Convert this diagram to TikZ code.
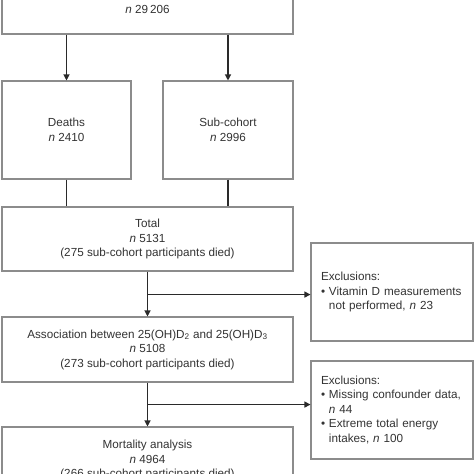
\documentclass[tikz,border=0pt]{standalone}
\usepackage{fontspec}
\setmainfont{Liberation Sans}
\usetikzlibrary{arrows.meta}
\definecolor{boxgray}{HTML}{8C8C8C}
\definecolor{txt}{HTML}{333333}
\definecolor{linec}{HTML}{2A2A2A}
\newcommand\myfs{\fontsize{11.7}{14.5}\selectfont}
\begin{document}
\begin{tikzpicture}[x=1pt,y=-1pt,
  box/.style={draw=boxgray, line width=1.1pt, inner sep=0pt, align=center, font=\myfs, text=txt},
  exbox/.style={box, inner xsep=10pt, text width=142pt, align=left, minimum height=98pt},
  conn/.style={draw=linec, line width=1.2pt},
  arr/.style={conn, -{Triangle[length=6pt,width=6pt]}}]
\useasboundingbox (0,0) rectangle (474,474);
\fill[white] (0,0) rectangle (474,474);
\node[box, minimum width=291pt, minimum height=50pt] (top) at (147.5,9) {\textit{n} 29\,206};
\node[box, minimum width=129pt, minimum height=98pt] (deaths) at (66.5,130) {Deaths\\\textit{n} 2410};
\node[box, minimum width=130pt, minimum height=98pt] (sub) at (228,130) {Sub-cohort\\\textit{n} 2996};
\node[box, minimum width=291pt, minimum height=64pt] (total) at (147.5,239) {Total\\\textit{n} 5131\\(275 sub-cohort participants died)};
\node[box, minimum width=291pt, minimum height=65pt] (assoc) at (147.5,349.5) {Association between 25(OH)D\textsubscript{2} and 25(OH)D\textsubscript{3}\\\textit{n} 5108\\(273 sub-cohort participants died)};
\node[box, minimum width=291pt, minimum height=66pt] (mort) at (147.5,460) {Mortality analysis\\\textit{n} 4964\\(266 sub-cohort participants died)};
\node[exbox] (ex1) at (392,292) {Exclusions:\\\mbox{\textbullet\ Vitamin D measurements}\\\mbox{\hphantom{\textbullet\ }not performed, \textit{n} 23}};
\node[exbox] (ex2) at (392,410) {Exclusions:\\\mbox{\textbullet\ Missing confounder data,}\\\mbox{\hphantom{\textbullet\ }\textit{n} 44}\\\mbox{\textbullet\ Extreme total energy}\\\mbox{\hphantom{\textbullet\ }intakes, \textit{n} 100}};
\draw[arr] (deaths.north |- top.south) -- (deaths.north);
\draw[arr] (sub.north |- top.south) -- (sub.north);
\draw[conn] (deaths.south) -- (deaths.south |- total.north);
\draw[conn] (sub.south) -- (sub.south |- total.north);
\draw[arr] (total.south) -- (assoc.north);
\coordinate (b1) at ([yshift=-23pt]total.south);
\draw[arr] (b1) -- (b1 -| ex1.west);
\draw[arr] (assoc.south) -- (mort.north);
\coordinate (b2) at ([yshift=-22pt]assoc.south);
\draw[arr] (b2) -- (b2 -| ex2.west);
\end{tikzpicture}
\end{document}
